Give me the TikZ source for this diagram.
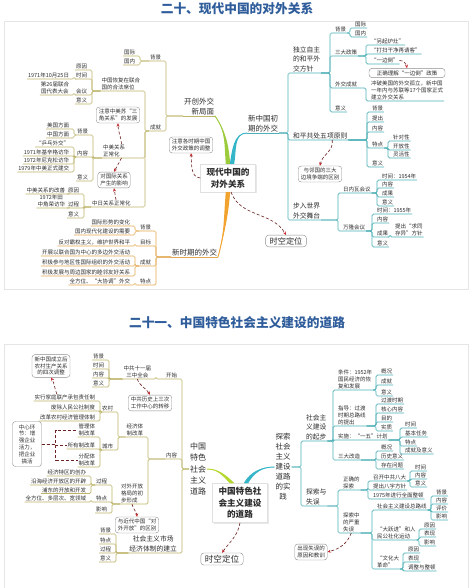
\documentclass[tikz,border=0pt]{standalone}
\usepackage{fontspec}
\setmainfont{Noto Sans CJK SC}
\usetikzlibrary{arrows.meta,shadows}
\definecolor{ttlblue}{HTML}{2F5D9B}
\definecolor{olv}{HTML}{BDB56A}
\definecolor{tea}{HTML}{4FB0B8}
\definecolor{org}{HTML}{E3A952}
\definecolor{grnb}{HTML}{9CCB3C}
\definecolor{teab}{HTML}{35B5C8}
\definecolor{orgb}{HTML}{F2A22E}
\definecolor{arrc}{HTML}{6E2222}
\definecolor{arrh}{HTML}{C42A2F}
\tikzset{
  every node/.style={inner sep=0.8pt, text=black!82},
  sm/.style={font=\fontsize{5.5}{6.8}\selectfont, align=center},
  md/.style={font=\fontsize{6.8}{9.5}\selectfont, align=left},
  lg/.style={font=\fontsize{7.5}{10}\selectfont, align=center},
  ctr/.style={font=\bfseries\fontsize{8.6}{11.5}\selectfont, align=center, fill=white,
    draw=black!12, inner xsep=6pt, inner ysep=4pt,
    drop shadow={opacity=0.18, shadow xshift=1pt, shadow yshift=-1pt}},
  note/.style={sm, draw=black!45, fill=white, rounded corners=3pt, inner xsep=2.5pt, inner ysep=2pt},
  skn/.style={note, font=\fontsize{8.2}{10}\selectfont, inner xsep=4pt, inner ysep=2pt},
  ttl/.style={font=\bfseries\fontsize{12.7}{14}\selectfont, text=ttlblue},
  panel/.style={draw=black!10, line width=0.8pt},
  ol/.style={draw=olv, line width=0.7pt, rounded corners=1.5pt},
  tq/.style={draw=tea, line width=0.7pt, rounded corners=1.5pt},
  og/.style={draw=org, line width=0.7pt, rounded corners=1.5pt},
  arr/.style={draw=arrc, densely dashed, line width=0.6pt, -{Stealth[length=3.5pt, width=3pt, color=arrh]}},
  dsh/.style={draw=arrc, densely dashed, line width=0.6pt},
  trunk/.style={line width=0.9pt, line cap=round}
}
% child on the left / right: underline, then bracket back to the parent point
\newcommand{\lk}[3]{\draw[#1] (#3.south west) -- (#3.south east) -- ++(4,0) |- (#2);}
\newcommand{\rk}[3]{\draw[#1] (#3.south east) -- (#3.south west) -- ++(-4,0) |- (#2);}
\newcommand{\lks}[3]{\foreach \kd in {#3}{\lk{#1}{#2}{\kd}}}
\newcommand{\rks}[3]{\foreach \kd in {#3}{\rk{#1}{#2}{\kd}}}
% tapered main branch: colour, start anchor, x offset, out, in, end
\newcommand{\trunkto}[6]{%
  \fill[#1] ([xshift=#3pt-2.2pt]#2) to[out=#4, in=#5] (#6) to[out=#5, in=#4] ([xshift=#3pt+2.2pt]#2) -- cycle;
  \draw[trunk, draw=#1] ([xshift=#3pt]#2) to[out=#4, in=#5] (#6);}

\begin{document}
\begin{tikzpicture}[x=1pt,y=-1pt]
  \useasboundingbox (0,0) rectangle (474,588);
  \fill[white] (0,0) rectangle (474,588);

  %% ---------- 二十 ----------
  \node[ttl] (t1) at (237,9) {二十、现代中国的对外关系};
  \draw[panel] (4,21) rectangle (468,289);
  \node[ctr] (c1) at (228,178) {现代中国的\\对外关系};

  \node[lg, anchor=south east, align=right] (kc) at (215,116) {开创外交\\新局面};
  \node[sm, anchor=south east] (bj0) at (162,61) {背景};
  \node[sm, anchor=south east] (cj0) at (162,131) {成就};
  \node[sm, anchor=south east] (gj0) at (136,56) {国际};
  \node[sm, anchor=south east] (gn0) at (136,65) {国内};
  \node[sm, anchor=south east, align=left] (lh) at (141,91) {中国恢复在联合\\国的合法席位};
  \node[sm, anchor=south east, align=left, text width=37pt] (zm) at (141,158) {中美关系\\正常化};
  \node[sm, anchor=south east, align=left, text width=48pt] (zr) at (141,207) {中日关系正常化};
  \node[sm, anchor=south east] (yy1) at (88,70) {原因};
  \node[sm, anchor=south east] (sj1) at (88,79) {时间};
  \node[sm, anchor=south east] (hy1) at (88,95) {会议};
  \node[sm, anchor=south east] (yi1) at (88,104) {意义};
  \node[sm, anchor=south east] (sj1a) at (70,79) {1971年10月25日};
  \node[sm, anchor=south east] (hy1a) at (70,95) {第26届联合\\国代表大会};
  \node[sm, anchor=south east] (bj2) at (89,135) {背景};
  \node[sm, anchor=south east] (nr2) at (89,157) {内容};
  \node[sm, anchor=south east] (yi2) at (89,181) {意义};
  \node[sm, anchor=south east] (mg2) at (70,129) {美国方面};
  \node[sm, anchor=south east] (zg2) at (70,138) {中国方面};
  \node[sm, anchor=south east] (pp2) at (70,147) {“乒乓外交”};
  \node[sm, anchor=south east] (jx2) at (70,156) {1971年基辛格访华};
  \node[sm, anchor=south east] (nk2) at (70,164) {1972年尼克松访华};
  \node[sm, anchor=south east] (jj2) at (70,172) {1979年中美正式建交};
  \node[sm, anchor=south east] (yy3) at (80,194) {原因};
  \node[sm, anchor=south east] (gc3) at (80,208) {过程};
  \node[sm, anchor=south east] (yi3) at (80,218) {意义};
  \node[sm, anchor=south east] (yy3a) at (66,194) {中美关系的改善};
  \node[sm, anchor=south east] (gc3a) at (66,208) {1972年田\\中角荣访华};
  \node[note] (n1) at (118,115) {注意中美苏“三\\角关系”的发展};
  \node[note] (n2) at (114,180) {对国际关系\\产生的影响};
  \node[note] (n0) at (191,145) {注意各时期中国\\外交政策的调整};

  \node[lg, anchor=south east] (xs) at (218,257) {新时期的外交};
  \node[sm, anchor=south east] (bj4) at (152,231) {背景};
  \node[sm, anchor=south east] (mb4) at (152,246) {目标};
  \node[sm, anchor=south east] (cj4) at (152,266) {成就};
  \node[sm, anchor=south east] (td4) at (152,285) {特点};
  \node[sm, anchor=south east] (gj4) at (131,226) {国际形势的变化};
  \node[sm, anchor=south east] (gn4) at (131,235) {国内现代化建设的需要};
  \node[sm, anchor=south east] (fd4) at (131,246) {反对霸权主义，维护世界和平};
  \node[sm, anchor=south east] (ka4) at (131,256) {开展以联合国为中心的多边外交活动};
  \node[sm, anchor=south east] (jy4) at (131,266) {积极参与地区性国际组织的外交活动};
  \node[sm, anchor=south east] (jf4) at (131,276) {积极发展与周边国家的睦邻友好关系};
  \node[sm, anchor=south east] (qf4) at (131,285) {全方位、“大协调”外交};

  \node[lg, anchor=south west, align=left] (xz) at (247,133) {新中国初\\期的外交};
  \node[md, anchor=south west] (dl) at (292,73) {独立自主\\的和平外\\交方针};
  \node[md, anchor=south west] (hp) at (292,140) {和平共处五项原则};
  \node[md, anchor=south west] (bw) at (292,220) {步入世界\\外交舞台};
  \node[sm, anchor=south west] (bj5) at (334,33) {背景};
  \node[sm, anchor=south west] (sd5) at (334,56) {三大政策};
  \node[sm, anchor=south west] (wc5) at (334,88) {外交成就};
  \node[sm, anchor=south west] (yi5) at (334,112) {意义};
  \node[sm, anchor=south west] (gj5) at (354,28) {国际};
  \node[sm, anchor=south west] (gn5) at (354,37) {国内};
  \node[sm, anchor=south west] (lq5) at (370,45) {“另起炉灶”};
  \node[sm, anchor=south west] (ds5) at (370,54) {“打扫干净再请客”};
  \node[sm, anchor=south west] (ybd) at (370,64) {“一边倒”};
  \node[sm, anchor=south west, align=left] (cp5) at (370,101) {冲破美国的外交孤立，新中国\\一年内与苏联等17个国家正式\\建立外交关系};
  \node[note, minimum width=76pt] (n4) at (407,73) {正确理解“一边倒”政策};
  \node[sm, anchor=south west] (bj6) at (371,112) {背景};
  \node[sm, anchor=south west] (tc6) at (371,122) {提出};
  \node[sm, anchor=south west] (nr6) at (371,132) {内容};
  \node[sm, anchor=south west] (td6) at (371,148) {特点};
  \node[sm, anchor=south west] (yi6) at (371,167) {意义};
  \node[sm, anchor=south west] (zd6) at (392,141) {针对性};
  \node[sm, anchor=south west] (kf6) at (392,150) {开放性};
  \node[sm, anchor=south west] (lh6) at (392,158) {灵活性};
  \node[note] (n3) at (320,174) {与邻国的三大\\边境争端的区别};
  \node[sm, anchor=south west] (rn) at (342,193) {日内瓦会议};
  \node[sm, anchor=south west] (wl) at (342,231) {万隆会议};
  \node[sm, anchor=south west] (rn1) at (381,180) {时间：1954年};
  \node[sm, anchor=south west] (rn2) at (381,188) {内容};
  \node[sm, anchor=south west] (rn3) at (381,197) {成果};
  \node[sm, anchor=south west] (rn4) at (381,206) {意义};
  \node[sm, anchor=south west] (wl1) at (376,214) {时间：1955年};
  \node[sm, anchor=south west] (wl2) at (376,223) {内容};
  \node[sm, anchor=south west] (wl3) at (376,237) {成果};
  \node[sm, anchor=south west] (wl4) at (376,247) {意义};
  \node[sm, anchor=south west, align=left] (wl3a) at (394,237) {提出“求同\\存异”方针};
  \node[skn] (sk1) at (286,241) {时空定位};

  \trunkto{grnb}{c1.north}{0}{95}{-55}{kc.south east}
  \trunkto{teab}{c1.north}{4}{80}{180}{xz.south west}
  \trunkto{orgb}{c1.south}{0}{-95}{75}{xs.south east}
  \draw[ol] (kc.south west) -- (kc.south east);
  \draw[tq] (xz.south west) -- (xz.south east);
  \draw[og] (xs.south west) -- (xs.south east);

  \lks{ol}{kc.south west}{bj0,cj0}
  \lks{ol}{bj0.south west}{gj0,gn0}
  \lks{ol}{cj0.south west}{lh,zm,zr}
  \lks{ol}{lh.south west}{yy1,sj1,hy1,yi1}
  \lk{ol}{sj1.south west}{sj1a}
  \lk{ol}{hy1.south west}{hy1a}
  \lks{ol}{zm.south west}{bj2,nr2,yi2}
  \lks{ol}{bj2.south west}{mg2,zg2}
  \lks{ol}{nr2.south west}{pp2,jx2,nk2,jj2}
  \lks{ol}{zr.south west}{yy3,gc3,yi3}
  \lk{ol}{yy3.south west}{yy3a}
  \lk{ol}{gc3.south west}{gc3a}
  \lks{og}{xs.south west}{bj4,mb4,cj4,td4}
  \lks{og}{bj4.south west}{gj4,gn4}
  \lk{og}{mb4.south west}{fd4}
  \lks{og}{cj4.south west}{ka4,jy4,jf4}
  \lk{og}{td4.south west}{qf4}
  \rks{tq}{xz.south east}{dl,hp,bw}
  \rks{tq}{dl.south east}{bj5,sd5,wc5,yi5}
  \rks{tq}{bj5.south east}{gj5,gn5}
  \rks{tq}{sd5.south east}{lq5,ds5,ybd}
  \rk{tq}{wc5.south east}{cp5}
  \rks{tq}{hp.south east}{bj6,tc6,nr6,td6,yi6}
  \rks{tq}{td6.south east}{zd6,kf6,lh6}
  \rks{tq}{bw.south east}{rn,wl}
  \rks{tq}{rn.south east}{rn1,rn2,rn3,rn4}
  \rks{tq}{wl.south east}{wl1,wl2,wl3,wl4}
  \rk{tq}{wl3.south east}{wl3a}

  \draw[arr] (c1.west) to[out=175, in=-85] (n0.south);
  \draw[arr] ([xshift=3pt]c1.south) to[out=-70, in=120] (sk1.north);
  \draw[arr] (zm.north) to[out=95, in=-90] (n1.south);
  \draw[arr] (zm.south) to (n2.north);
  \draw[arr] (zr.north) to (n2.south);
  \draw[arr] (ybd.east) to[out=0, in=100] (n4.north);
  \draw[arr] ([xshift=12pt]hp.south) to[out=-80, in=80] (n3.north);

  %% ---------- 二十一 ----------
  \node[ttl] (t2) at (237,323) {二十一、中国特色社会主义建设的道路};
  \draw[panel] (4,344) rectangle (468,600);
  \node[ctr] (c2) at (240,503) {中国特色社\\会主义建设\\的道路};
  \node[lg, font=\fontsize{8}{11.3}\selectfont] (lm) at (198,469) {中国\\特色\\社会\\主义\\道路};
  \node[lg] (rm) at (283,467) {探索\\社会\\主义\\建设\\道路\\的实\\践};

  \node[sm, anchor=south east] (ks) at (178,379) {开始};
  \node[sm, anchor=south east] (nr) at (178,459) {内容};
  \node[md, anchor=south east, align=center] (sc) at (178,553) {社会主义市场\\经济体制的建立};
  \node[sm, anchor=south east] (sz) at (152,379) {中共十一届\\三中全会};
  \node[sm, anchor=south east] (sz1) at (105,360) {背景};
  \node[sm, anchor=south east] (sz2) at (105,369) {时间};
  \node[sm, anchor=south east] (sz3) at (105,378) {内容};
  \node[sm, anchor=south east] (sz4) at (105,387) {意义};
  \node[note] (n5) at (51,366) {新中国成立后\\农村生产关系\\的四次调整};
  \node[note] (n6) at (150,403) {中共历史上三次\\工作中心的转移};
  \node[sm, anchor=south east, align=left] (jj) at (144,437) {经济体\\制改革};
  \node[sm, anchor=south east, align=left] (dw) at (144,504) {对外开放\\格局的初\\步形成};
  \node[sm, anchor=south east] (nc) at (114,412) {农村};
  \node[sm, anchor=south east] (cs) at (114,450) {城市};
  \node[sm, anchor=south east] (jt) at (96,401) {实行家庭联产承包责任制};
  \node[sm, anchor=south east] (fc) at (96,411) {废除人民公社制度};
  \node[sm, anchor=south east] (gg) at (96,421) {改革农村经济管理体制};
  \node[sm, anchor=south east] (gl) at (96,437) {管理体\\制改革};
  \node[sm, anchor=south east] (sy) at (96,449) {所有制改革};
  \node[sm, anchor=south east] (fp) at (96,467) {分配体\\制改革};
  \node[note, minimum width=29pt, inner ysep=3pt] (n7) at (27,444) {中心环\\节：增\\强企业\\活力，\\把企业\\搞活};
  \node[sm, anchor=south east] (gc7) at (108,485) {过程};
  \node[sm, anchor=south east] (td7) at (108,502) {特点};
  \node[sm, anchor=south east] (yx7) at (108,513) {影响};
  \node[sm, anchor=south east] (tq7) at (87,476) {经济特区的创办};
  \node[sm, anchor=south east] (yh7) at (87,485) {沿海经济开放区的开辟};
  \node[sm, anchor=south east] (pd7) at (87,493.5) {浦东的开放和开发};
  \node[sm, anchor=south east] (qf7) at (87,502) {全方位、多层次、宽领域};
  \node[note] (n8) at (137,525) {与近代中国“对\\外开放”的区别};
  \node[sm, anchor=south east] (sc1) at (112,534) {背景};
  \node[sm, anchor=south east] (sc2) at (112,544) {特点};
  \node[sm, anchor=south east] (sc3) at (112,553) {过程};
  \node[sm, anchor=south east] (sc4) at (112,562) {意义};
  \node[skn, font=\fontsize{8.6}{10}\selectfont] (sk2) at (222,559) {时空定位};

  \node[md, anchor=south west] (qb) at (305,441) {社会主\\义建设\\的起步};
  \node[md, anchor=south west] (ts) at (305,506) {探索与\\失误};
  \node[sm, anchor=south west, align=left] (tj) at (337,390) {条件：1952年\\国民经济的恢\\复和发展};
  \node[sm, anchor=south west, align=left] (zd) at (337,426) {指导：过渡\\时期总路线\\的提出};
  \node[sm, anchor=south west] (ss) at (337,440) {实施：“一五”计划};
  \node[sm, anchor=south west] (sg) at (337,460) {三大改造};
  \node[sm, anchor=south west] (tj1) at (380,375) {概况};
  \node[sm, anchor=south west] (tj2) at (380,385) {成就};
  \node[sm, anchor=south west] (tj3) at (380,396) {意义};
  \node[sm, anchor=south west] (zd1) at (380,404) {过渡时期};
  \node[sm, anchor=south west] (zd2) at (380,413) {核心内容};
  \node[sm, anchor=south west] (zd3) at (380,422) {目的};
  \node[sm, anchor=south west] (zd4) at (380,431) {实质};
  \node[sm, anchor=south west] (ss1) at (404,428) {时间};
  \node[sm, anchor=south west] (ss2) at (404,437) {基本任务};
  \node[sm, anchor=south west] (ss3) at (404,446) {特点};
  \node[sm, anchor=south west] (ss4) at (404,454) {成就及意义};
  \node[sm, anchor=south west] (sg1) at (380,451) {概况};
  \node[sm, anchor=south west] (sg2) at (380,460) {历史意义};
  \node[sm, anchor=south west] (sg3) at (380,469) {存在问题};
  \node[sm, anchor=south west, align=left] (zq) at (342,490) {正确的\\探索};
  \node[sm, anchor=south west, align=left] (yz) at (342,533) {探索中\\的严重\\失误};
  \node[sm, anchor=south west] (bd) at (372,481) {召开中共八大};
  \node[sm, anchor=south west] (bz) at (372,490) {提出八字方针};
  \node[sm, anchor=south west] (zt) at (372,499) {1975年进行全面整顿};
  \node[sm, anchor=south west] (bd1) at (414,471) {时间};
  \node[sm, anchor=south west] (bd2) at (414,479) {内容};
  \node[sm, anchor=south west] (bd3) at (414,487) {意义};
  \node[sm, anchor=south west] (zl) at (376,510) {社会主义建设总路线};
  \node[sm, anchor=south west, align=left] (dy) at (376,540) {“大跃进”和人\\民公社化运动};
  \node[sm, anchor=south west, align=left] (wg) at (376,569) {“文化大\\革命”};
  \node[sm, anchor=south west] (zl1) at (435,496) {背景};
  \node[sm, anchor=south west] (zl2) at (435,504) {内容};
  \node[sm, anchor=south west] (zl3) at (435,512) {评价};
  \node[sm, anchor=south west] (zl4) at (435,520) {影响};
  \node[sm, anchor=south west] (dy1) at (423,529) {原因};
  \node[sm, anchor=south west] (dy2) at (423,537) {表现};
  \node[sm, anchor=south west] (dy3) at (423,546) {影响};
  \node[sm, anchor=south west] (wg1) at (407,553) {原因};
  \node[sm, anchor=south west] (wg2) at (407,562) {表现};
  \node[sm, anchor=south west] (wg3) at (407,571) {调整与整顿};
  \node[note] (n9) at (311,552) {出现失误的\\原因和教训};

  \trunkto{grnb!75!yellow}{c2.north}{-8}{135}{0}{lm.east}
  \trunkto{teab}{c2.north}{6}{60}{180}{rm.west}

  \lks{ol}{lm.west}{ks,nr,sc}
  \lk{ol}{ks.south west}{sz}
  \lks{ol}{sz.south west}{sz1,sz2,sz3,sz4}
  \lks{ol}{nr.south west}{jj,dw}
  \lks{ol}{jj.south west}{nc,cs}
  \lks{ol}{nc.south west}{jt,fc,gg}
  \lks{ol}{cs.south west}{gl,sy,fp}
  \lks{ol}{dw.south west}{gc7,td7,yx7}
  \lks{ol}{gc7.south west}{tq7,yh7,pd7}
  \lk{ol}{td7.south west}{qf7}
  \lks{ol}{sc.south west}{sc1,sc2,sc3,sc4}
  \rks{tq}{rm.east}{qb,ts}
  \rks{tq}{qb.south east}{tj,zd,ss,sg}
  \rks{tq}{tj.south east}{tj1,tj2,tj3}
  \rks{tq}{zd.south east}{zd1,zd2,zd3,zd4}
  \rks{tq}{ss.south east}{ss1,ss2,ss3,ss4}
  \rks{tq}{sg.south east}{sg1,sg2,sg3}
  \rks{tq}{ts.south east}{zq,yz}
  \rks{tq}{zq.south east}{bd,bz,zt}
  \rks{tq}{bd.south east}{bd1,bd2,bd3}
  \rks{tq}{yz.south east}{zl,dy,wg}
  \rks{tq}{zl.south east}{zl1,zl2,zl3,zl4}
  \rks{tq}{dy.south east}{dy1,dy2,dy3}
  \rks{tq}{wg.south east}{wg1,wg2,wg3}

  \draw[dsh] (n7.east) -- ++(14,0) |- (gl.west);
  \draw[dsh] (n7.east) -- ++(14,0) |- (sy.west);
  \draw[dsh] (n7.east) -- ++(14,0) |- (fp.west);
  \draw[arr] (sz.south) to[out=-70, in=120] (n6.north);
  \draw[arr] ([xshift=-8pt]jt.north) to[out=110, in=-60] (n5.south);
  \draw[arr] (dw.south) to[out=-80, in=95] (n8.north);
  \draw[arr] (c2.south) to[out=-100, in=55] (sk2.north);
  \draw[arr] (yz.south) to[out=-110, in=15] (n9.east);
\end{tikzpicture}
\end{document}
